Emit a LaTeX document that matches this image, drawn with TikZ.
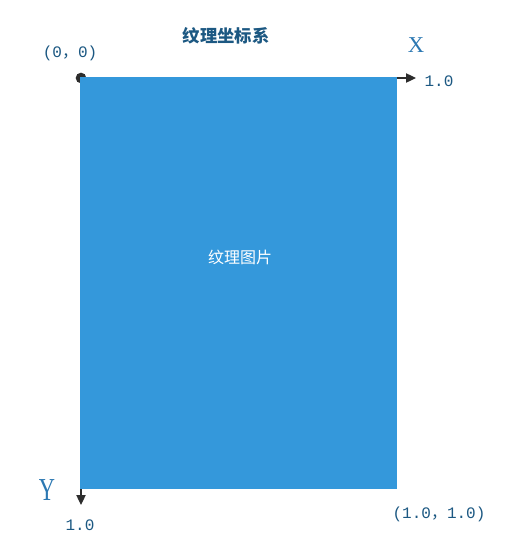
\documentclass[tikz,border=0pt]{standalone}
\usepackage{fontspec}
\setmainfont{Liberation Mono}
\newfontfamily\cjk{Noto Sans CJK SC}
\newfontfamily\axisfont{Liberation Serif}
\usetikzlibrary{arrows.meta}

\definecolor{texblue}{RGB}{52,152,219}
\definecolor{lblblue}{RGB}{28,88,130}
\definecolor{axblue}{RGB}{44,120,178}
\definecolor{axgray}{RGB}{45,45,45}

\tikzset{
  axisline/.style={draw=axgray, line width=0.9pt, -{Triangle[length=7.5pt,width=7pt]}},
  lbl/.style={inner sep=0pt, text=lblblue, font=\fontsize{12}{14}\selectfont},
  axlbl/.style={inner sep=0pt, text=axblue}
}

\begin{document}
\begin{tikzpicture}[x=0.75pt,y=0.75pt,yscale=-1,xscale=1]
\useasboundingbox (0,0) rectangle (516,554);

% axis ends
\coordinate (orig) at (81,78);
\coordinate (xend) at (416,78);
\coordinate (yend) at (81,505);

% origin dot
\node [circle, fill=axgray, inner sep=0pt, minimum size=8pt] (dot) at (orig) {};

% axes
\draw [axisline] (orig) -- (xend);
\draw [axisline] (orig) -- (yend);

% texture
\fill [texblue] (80,77) rectangle (397,489);
\node [inner sep=0pt, text=white, font=\cjk\fontsize{12}{14}\selectfont] (pic) at (240,257) {纹理图片};

% Text Node
\node [inner sep=0pt, text=lblblue, font=\cjk\bfseries\fontsize{13}{15}\selectfont] (title) at (226,36) {纹理坐标系};
% Text Node
\node [lbl] (zero) at (70,53) {(0{\cjk ，}0)};
% Text Node
\node [lbl] (xone) at (439,81) {1.0};
% Text Node
\node [lbl] (yone) at (80,525) {1.0};
% Text Node
\node [lbl] (corner) at (439,514) {(1.0{\cjk ，}1.0)};
% Text Node
\node [axlbl, font=\axisfont\fontsize{17}{18}\selectfont] (xlbl) at (416,45) {X};
% Text Node
\node [axlbl, font=\axisfont\fontsize{24}{26}\selectfont, xscale=0.7] (ylbl) at (47,490) {Y};

\end{tikzpicture}
\end{document}
